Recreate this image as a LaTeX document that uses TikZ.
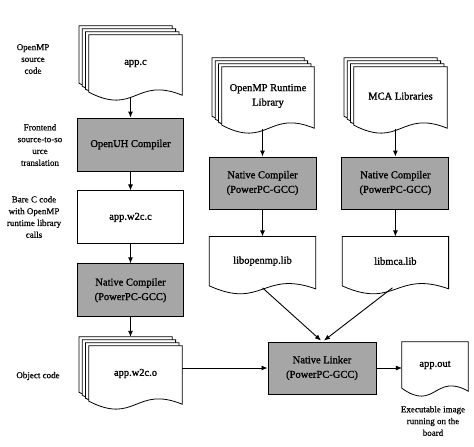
\documentclass[tikz,border=0pt]{standalone}
\usepackage{fontspec}
\setmainfont{Liberation Serif}
\newfontfamily\boxfont[FakeBold=1.2]{Liberation Serif}
\newfontfamily\notefont[FakeBold=0.5]{Liberation Serif}
\usepackage{tikz}
\usetikzlibrary{arrows.meta,calc,positioning,backgrounds}

% document outline with a wavy bottom, shifted by (#2,#3)
\newcommand{\docoutline}[3]{%
  \filldraw[docline] ($(#1.north west)+(#2,#3)$) -- ($(#1.north east)+(#2,#3)$)
    -- ($(#1.south east)+(#2,#3+3)$)
    .. controls ($(#1.south)+(#2,#3-16)$) and ($(#1.south)+(#2,#3+24)$) .. ($(#1.south west)+(#2,#3)$) -- cycle;}
% stack of four pages
\newcommand{\docstack}[1]{%
  \foreach \k in {3,2,1} {\docoutline{#1}{-3.3*\k}{-3*\k}}
  \docoutline{#1}{0}{0}}

\begin{document}
\begin{tikzpicture}[
    x=1pt,y=-1pt,
    >={Latex[length=6pt,width=5pt]},
    flow/.style={line width=0.9pt,->},
    thinflow/.style={line width=0.5pt,->},
    docline/.style={draw,line width=0.8pt,fill=white},
    tool/.style={draw,line width=0.9pt,fill=black!35,minimum width=106pt,minimum height=53pt,inner sep=0pt,align=center,font=\boxfont\fontsize{10.5}{14.5}\selectfont},
    plain/.style={draw,line width=0.9pt,fill=white,minimum width=106pt,minimum height=53pt,inner sep=0pt,align=center,font=\boxfont\fontsize{10.5}{14.5}\selectfont},
    doc/.style={minimum width=93pt,minimum height=57pt,inner sep=0pt,align=center,font=\boxfont\fontsize{10.5}{14.5}\selectfont},
    note/.style={align=center,font=\notefont\fontsize{9}{11.8}\selectfont}
]
\useasboundingbox (0,0) rectangle (474,447);

% --- Left column ---
\node[doc] (appc) at (135.5,63.5) {app.c};
\node[tool] (uhc) at (130.5,144.5) {OpenUH Compiler};
\node[plain,below=19pt of uhc] (w2cc) {app.w2c.c};
\node[tool,below=19pt of w2cc] (ncl) {Native Compiler\\(PowerPC-GCC)};
\node[doc,minimum height=55pt] (w2co) at (135.5,373.5) {app.w2c.o};

% --- Library columns ---
\node[doc,minimum width=92pt,minimum height=58pt] (rtl) at (268,96) {OpenMP Runtime\\Library};
\node[doc,minimum height=58pt] (mca) at (400.5,96) {MCA Libraries};
\node[tool,minimum width=107pt,minimum height=52pt] (ncm) at (262.5,183) {Native Compiler\\(PowerPC-GCC)};
\node[tool,minimum width=107pt,minimum height=52pt,right=25pt of ncm] (ncr) {Native Compiler\\(PowerPC-GCC)};
\node[doc,minimum width=106pt,minimum height=49pt,below=27pt of ncm] (libomp) {libopenmp.lib};
\node[doc,minimum width=106pt,minimum height=49pt,below=27pt of ncr] (libmca) {libmca.lib};

% --- Linker and output ---
\node[tool,minimum width=108pt,minimum height=52pt] (linker) at (322,368) {Native Linker\\(PowerPC-GCC)};
\node[doc,minimum width=66pt,minimum height=46pt] (appout) at (435,365) {app.out};

% --- Document shapes ---
\begin{scope}[on background layer]
\docstack{appc}
\docstack{w2co}
\docstack{rtl}
\docstack{mca}
\docoutline{libomp}{0}{0}
\docoutline{libmca}{0}{0}
\docoutline{appout}{0}{0}
\end{scope}

% --- Arrows ---
\draw[flow] ($(appc.south -| uhc.north)+(0,5)$) -- (uhc.north);
\draw[flow] (uhc.south) -- (w2cc.north);
\draw[flow] (w2cc.south) -- (ncl.north);
\draw[flow] (ncl.south) -- ($(w2co.north -| ncl.south)+(0,-9)$);
\draw[flow] ($(rtl.south -| ncm.north)+(0,4)$) -- (ncm.north);
\draw[flow] ($(mca.south -| ncr.north)+(0,4)$) -- (ncr.north);
\draw[flow] (ncm.south) -- (libomp.north);
\draw[flow] (ncr.south) -- (libmca.north);
\draw[flow] ($(libomp.south)+(0,2)$) -- ($(linker.north)+(-1,-1)$);
\draw[flow] ($(libmca.south)+(-3,2)$) -- ($(linker.north)+(2,-1)$);
\draw[flow] (w2co.east |- linker.west) -- (linker.west);
\draw[thinflow] (linker.east) -- (linker.east -| appout.west);

% --- Notes ---
\node[note] (srcnote) at (33,59) {OpenMP\\source\\code};
\node[note] (fenote) at (40,145) {Frontend\\source-to-so\\urce\\translation};
\node[note] (barenote) at (34,217) {Bare C code\\with OpenMP\\runtime library\\calls};
\node[note] (objnote) at (38,376) {Object code};
\node[note] (exenote) at (433,421) {Executable image\\running on the\\board};
\end{tikzpicture}
\end{document}
